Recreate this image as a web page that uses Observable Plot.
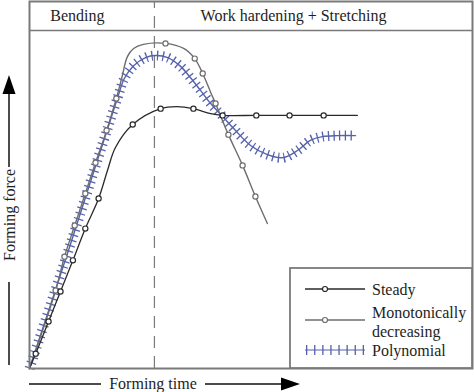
<!DOCTYPE html>
<html><head><meta charset="utf-8">
<script src="https://cdn.jsdelivr.net/npm/d3@7"></script>
<script src="https://cdn.jsdelivr.net/npm/@observablehq/plot@0.6"></script>
<style>
body{margin:0;background:#fff}
#chart{position:relative;width:474px;height:392px}
</style>
</head><body><div id="chart"></div>
<script>
// Steady
const steadyT = [0, 1.4, 4.3, 7.0, 9.8, 12.6, 15.6, 17.6, 19.4, 23.3, 29.6, 33.2, 37.0, 40.9, 43.6, 51.2, 58.7, 66.4, 74.0];
const steadyF = [0, 4.4, 13.9, 22.8, 32.0, 41.4, 50.3, 58.6, 65.4, 72.2, 76.9, 77.5, 76.9, 75.4, 74.9, 74.9, 74.9, 74.9, 74.9];
const steadyMark = [0, 1, 1, 1, 1, 1, 1, 0, 0, 1, 1, 0, 1, 0, 1, 1, 1, 1, 0];
// Monotonically decreasing
const monoT = [0, 5.9, 7.9, 10.2, 12.6, 14.9, 17.4, 19.6, 20.8, 22.1, 23.5, 25.7, 30.7, 34.8, 37.3, 39.1, 40.9, 42.0, 44.9, 48.1, 51.0, 53.7];
const monoF = [0, 23.1, 33.1, 42.3, 51.8, 60.9, 70.4, 79.9, 85.8, 92.3, 94.7, 95.9, 96.2, 94.7, 91.7, 87.3, 81.7, 78.4, 69.2, 60.1, 50.9, 42.9];
const monoMark = [0, 1, 1, 1, 1, 1, 1, 1, 0, 0, 0, 0, 1, 0, 1, 1, 0, 1, 1, 1, 1, 0];
// Polynomial
const polyT = [0, 9.3, 19.9, 21.4, 23.5, 26.2, 28.4, 31.2, 34.1, 36.3, 38.6, 40.9, 43.6, 46.1, 49.9, 53.7, 57.3, 60.5, 63.4, 66.1, 69.5, 73.6];
const polyF = [0, 37.0, 80.2, 85.8, 89.6, 92.0, 92.6, 92.0, 89.4, 86.1, 82.3, 78.4, 74.6, 71.0, 66.0, 63.3, 62.4, 64.5, 67.5, 68.6, 68.9, 68.9];
// Phases
const phaseNames = ["Bending", "Work hardening + Stretching"];
const phaseCenters = [10.8, 59.6];
const phaseBoundary = 28.2;
const headerLine = 100;
const headerLabelY = 104.4;
const yTop = 108.6;
const legendLabels = ["Steady", "Monotonically", "decreasing", "Polynomial"];
const xLabel = "Forming time";
const yLabel = "Forming force";

const steady = steadyT.map((t, i) => ({t, f: steadyF[i], m: steadyMark[i]}));
const mono = monoT.map((t, i) => ({t, f: monoF[i], m: monoMark[i]}));
const poly = polyT.map((t, i) => ({t, f: polyF[i]}));
const phases = phaseNames.map((n, i) => ({n, x: phaseCenters[i]}));

const cSteady = "#2a2a2a", cMono = "#6e6e6e", cPoly = "#5561ad", cFrame = "#7a7a7a", cText = "#1e1e1e";
const font = "'Liberation Serif', 'Times New Roman', serif";

const plot = Plot.plot({
  width: 474, height: 392,
  marginLeft: 29, marginRight: 2, marginTop: 1, marginBottom: 24,
  x: {domain: [0, 100], axis: null},
  y: {domain: [0, yTop], axis: null},
  style: {fontFamily: font, fontSize: "16px", background: "#fff", color: cText},
  marks: [
    Plot.ruleX([phaseBoundary], {y1: 0, y2: yTop, stroke: cFrame, strokeWidth: 1.2, strokeDasharray: "12,8"}),
    Plot.ruleY([headerLine], {stroke: cFrame, strokeWidth: 1.5}),
    Plot.text(phases, {x: "x", y: headerLabelY, text: "n", fill: cText, fontSize: 16}),
    Plot.line(poly, {x: "t", y: "f", curve: "catmull-rom", stroke: cPoly, strokeWidth: 10, strokeDasharray: "1.3,4.3", strokeLinecap: "butt"}),
    Plot.line(poly, {x: "t", y: "f", curve: "catmull-rom", stroke: cPoly, strokeWidth: 1.4}),
    Plot.line(mono, {x: "t", y: "f", curve: "catmull-rom", stroke: cMono, strokeWidth: 1.4}),
    Plot.line(steady, {x: "t", y: "f", curve: "catmull-rom", stroke: cSteady, strokeWidth: 1.3}),
    Plot.dot(mono.filter(d => d.m), {x: "t", y: "f", r: 2.6, fill: "#fff", stroke: cMono, strokeWidth: 1.2}),
    Plot.dot(steady.filter(d => d.m), {x: "t", y: "f", r: 2.6, fill: "#fff", stroke: cSteady, strokeWidth: 1.2}),
    Plot.frame({stroke: cFrame, strokeWidth: 2})
  ]
});
document.getElementById("chart").appendChild(plot);

const svg = d3.select(plot);
const g = svg.append("g").attr("font-family", font).attr("font-size", 16).attr("fill", cText);

// Legend
const lg = g.append("g");
lg.append("rect").attr("x", 290).attr("y", 268).attr("width", 182).attr("height", 100)
  .attr("fill", "#fff").attr("stroke", cFrame).attr("stroke-width", 1.8);
lg.append("line").attr("x1", 305).attr("x2", 365).attr("y1", 289).attr("y2", 289).attr("stroke", cSteady).attr("stroke-width", 1.3);
lg.append("circle").attr("cx", 325).attr("cy", 289).attr("r", 2.5).attr("fill", "#fff").attr("stroke", cSteady).attr("stroke-width", 1.2);
lg.append("line").attr("x1", 305).attr("x2", 365).attr("y1", 320).attr("y2", 320).attr("stroke", cMono).attr("stroke-width", 1.3);
lg.append("circle").attr("cx", 325).attr("cy", 320).attr("r", 2.5).attr("fill", "#fff").attr("stroke", cMono).attr("stroke-width", 1.2);
lg.append("line").attr("x1", 305).attr("x2", 365).attr("y1", 350).attr("y2", 350).attr("stroke", cPoly).attr("stroke-width", 1.2);
lg.append("line").attr("x1", 306).attr("x2", 366).attr("y1", 350).attr("y2", 350).attr("stroke", cPoly).attr("stroke-width", 10).attr("stroke-dasharray", "1.3,6.8").attr("stroke-linecap", "butt");
const ly = [295, 318, 337, 356];
legendLabels.forEach((s, i) => lg.append("text").attr("x", 372).attr("y", ly[i]).attr("text-anchor", "start").text(s));

// X label with arrow
g.append("text").attr("x", 153).attr("y", 389).attr("text-anchor", "middle").text(xLabel);
g.append("line").attr("x1", 29).attr("x2", 101).attr("y1", 384).attr("y2", 384).attr("stroke", "#111").attr("stroke-width", 1.5);
g.append("line").attr("x1", 205).attr("x2", 283).attr("y1", 384).attr("y2", 384).attr("stroke", "#111").attr("stroke-width", 1.5);
g.append("path").attr("d", "M281,377.5 L300,384 L281,390.5 Z").attr("fill", "#000");

// Y label with arrow
g.append("text").attr("transform", "translate(15,215) rotate(-90)").attr("text-anchor", "middle").text(yLabel);
g.append("line").attr("x1", 9).attr("x2", 9).attr("y1", 92).attr("y2", 167).attr("stroke", "#111").attr("stroke-width", 1.5);
g.append("line").attr("x1", 9).attr("x2", 9).attr("y1", 282).attr("y2", 365).attr("stroke", "#111").attr("stroke-width", 1.5);
g.append("path").attr("d", "M2.5,94 L9,75 L15.5,94 Z").attr("fill", "#000");
</script>
</body></html>
